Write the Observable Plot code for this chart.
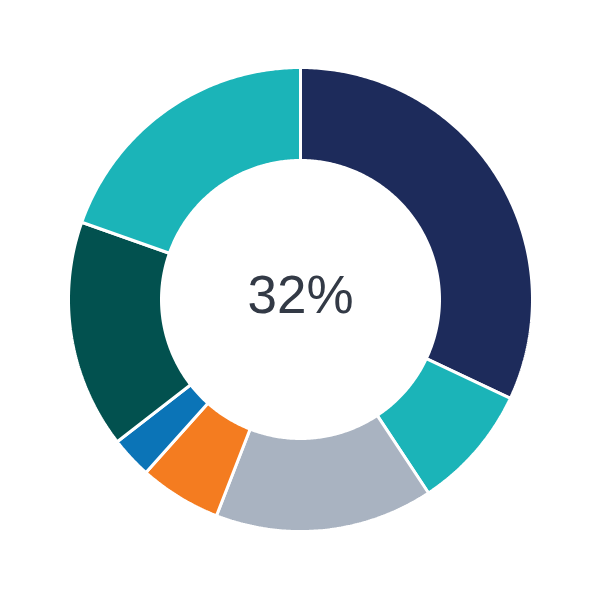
<!DOCTYPE html>
<html>
<head>
<meta charset="utf-8">
<script src="https://cdn.jsdelivr.net/npm/d3@7"></script>
<script src="https://cdn.jsdelivr.net/npm/@observablehq/plot@0.6"></script>
<style>
  html, body { margin: 0; padding: 0; background: #fff; }
  #chart { width: 600px; height: 600px; }
</style>
</head>
<body>
<div id="chart"></div>
<script>
// Data
const categories = ["A", "B", "C", "D", "E", "F", "G"];
const values = [32, 8.7, 15.2, 5.7, 2.9, 15.9, 19.6];
const colors = ["#1d2b5b", "#1bb4b8", "#a9b3c1", "#f47c20", "#0b74b7", "#02514f", "#1bb4b8"];
const centerLabel = "32%";

// Geometry (layout constants)
const outerR = 232, innerR = 139;
const cx = 0, cy = 0;

const pie = d3.pie().sort(null).value(d => d.value);
const arcs = pie(categories.map((c, i) => ({category: c, value: values[i], color: colors[i]})));

// Build polygon points for each slice (angle measured clockwise from 12 o'clock)
const pts = [];
arcs.forEach((a, idx) => {
  const n = Math.max(8, Math.ceil((a.endAngle - a.startAngle) / 0.01));
  const ring = [];
  for (let k = 0; k <= n; k++) {
    const t = a.startAngle + (a.endAngle - a.startAngle) * k / n;
    ring.push([Math.sin(t) * outerR, Math.cos(t) * outerR]);
  }
  for (let k = n; k >= 0; k--) {
    const t = a.startAngle + (a.endAngle - a.startAngle) * k / n;
    ring.push([Math.sin(t) * innerR, Math.cos(t) * innerR]);
  }
  ring.push(ring[0]);
  ring.forEach(([x, y]) => pts.push({x, y, slice: idx, color: a.data.color}));
});

const chart = Plot.plot({
  width: 600,
  height: 600,
  margin: 0,
  x: {domain: [-300, 300], axis: null},
  y: {domain: [-301, 299], axis: null},
  style: {background: "#fff"},
  marks: [
    Plot.line(pts, {
      x: "x", y: "y", z: "slice",
      fill: "color", stroke: "#fff", strokeWidth: 3,
      strokeLinejoin: "miter", curve: "linear"
    }),
    Plot.text([centerLabel], {
      x: () => cx, y: () => cy, text: d => d,
      fontSize: 53, fill: "#333a46", fontFamily: "Liberation Sans, Arial, sans-serif",
      dy: -3
    })
  ]
});
document.getElementById("chart").appendChild(chart);
</script>
</body>
</html>
